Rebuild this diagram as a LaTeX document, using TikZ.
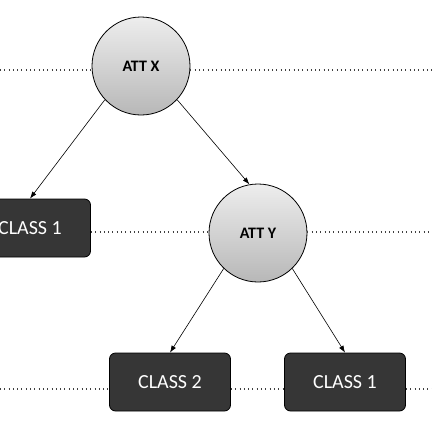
\documentclass[tikz,border=0pt]{standalone}
\usepackage{fontspec}
\setmainfont{Carlito}
\usepackage{tikz}
\usetikzlibrary{arrows.meta,positioning,shapes.geometric,calc}
\definecolor{attTop}{gray}{0.93}
\definecolor{attBot}{gray}{0.72}
\definecolor{clsFill}{gray}{0.21}
\definecolor{dotGray}{gray}{0.25}
\tikzset{
  attnode/.style={circle, draw=black, line width=0.8pt, top color=attTop, bottom color=attBot, minimum size=98pt, inner sep=0pt, font=\fontsize{16}{18}\selectfont\bfseries},
  classbox/.style={rectangle, rounded corners=6pt, draw=black, line width=0.8pt, fill=clsFill, text=white, minimum width=121pt, minimum height=58pt, font=\fontsize{20}{22}\selectfont},
  arrow/.style={-{Latex[length=7pt,width=5pt]}, line width=0.6pt, draw=black},
  dotline/.style={draw=dotGray, line width=1.1pt, dash pattern=on 0.9pt off 3.4pt}
}

\begin{document}
\begin{tikzpicture}[x=1pt, y=-1pt]
  \useasboundingbox (0,0) rectangle (432,432);
  \node[attnode] (attx) at (141,66) {ATT X};
  \node[attnode] (atty) at (258,233) {ATT Y};
  \node[classbox] (clsA) at (30,228) {CLASS 1};
  \node[classbox] (clsB) at (170,382) {CLASS 2};
  \node[classbox] (clsC) at (345,382) {CLASS 1};
  \coordinate (leftA) at (0,70);
  \coordinate (rightA) at (432,70);
  \coordinate (rightB) at (432,232);
  \coordinate (leftC) at (0,389);
  \coordinate (rightC) at (432,389);
  % dotted levels
  \draw[dotline] (leftA) -- (attx.west |- leftA);
  \draw[dotline] (attx.east |- rightA) -- (rightA);
  \draw[dotline] (clsA.east |- rightB) -- (atty.west |- rightB);
  \draw[dotline] (atty.east |- rightB) -- (rightB);
  \draw[dotline] (leftC) -- (clsB.west |- leftC);
  \draw[dotline] (clsB.east |- leftC) -- (clsC.west |- leftC);
  \draw[dotline] (clsC.east |- rightC) -- (rightC);
  % branches
  \draw[arrow] (attx.223) -- (clsA.north);
  \draw[arrow] (attx.-43) -- (atty.100);
  \draw[arrow] (atty.226) -- (clsB.north);
  \draw[arrow] (atty.-46) -- (clsC.north);
\end{tikzpicture}
\end{document}
